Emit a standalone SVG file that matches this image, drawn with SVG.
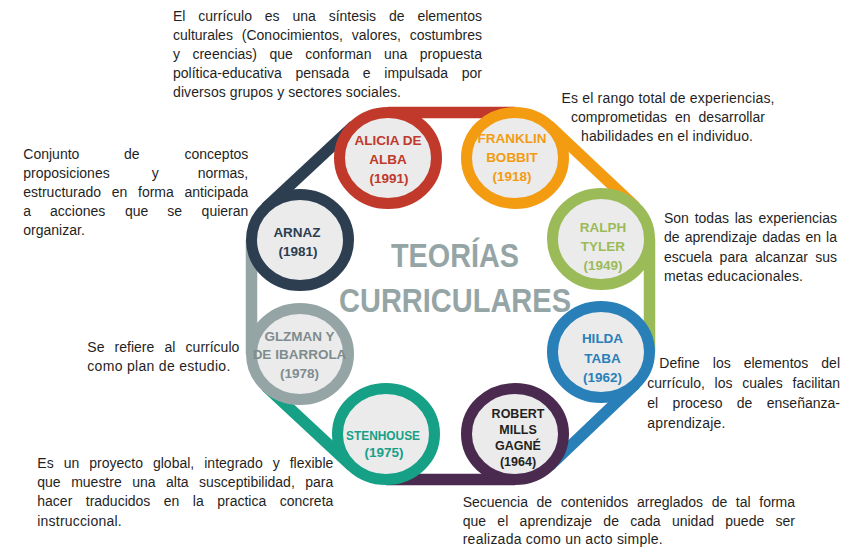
<svg xmlns="http://www.w3.org/2000/svg" width="851" height="558" viewBox="0 0 851 558">
<style>
.band{fill:none;stroke-width:11.5;stroke-linecap:butt}
.ring{fill:#ebebec;stroke-width:11}
.lbl{font-family:"Liberation Sans",Arial,sans-serif;font-weight:bold;font-size:13.5px;text-anchor:middle}
.lblr{font-family:"Liberation Sans",Arial,sans-serif;font-weight:bold;font-size:12.5px;text-anchor:middle;fill:#231f20}
.title{font-family:"Liberation Sans",Arial,sans-serif;font-weight:bold;font-size:33px;fill:#95a5a6;text-anchor:middle}
.body{font-family:"Liberation Sans",Arial,sans-serif;font-size:14px;fill:#1f1f1f}
.mid{text-anchor:middle}
</style>
<rect width="851" height="558" fill="#ffffff"/>
<g id="connectors">
<path class="band" stroke="#c0392b" d="M388,112.5 L515,112.5"/>
<path class="band" stroke="#f39c12" d="M549.4,125.9 L635.4,206.9"/>
<path class="band" stroke="#9bbb59" d="M649.5,239 L649.5,352"/>
<path class="band" stroke="#2980b9" d="M635.6,383.9 L549.6,465.9"/>
<path class="band" stroke="#4a2a4e" d="M515,479.5 L386,479.5"/>
<path class="band" stroke="#16a085" d="M351.9,466.3 L265.9,386.3"/>
<path class="band" stroke="#95a5a6" d="M251.5,354 L251.5,240"/>
<path class="band" stroke="#2c3e50" d="M265.8,207.7 L353.8,125.7"/>
</g>
<g id="alicia">
<ellipse class="ring" stroke="#c0392b" cx="388" cy="158" rx="48.5" ry="45.5"/>
<text class="lbl" fill="#c0392b"><tspan x="388" y="145">ALICIA DE</tspan><tspan x="388" y="164">ALBA</tspan><tspan x="389" y="183">(1991)</tspan></text>
</g>
<g id="franklin">
<ellipse class="ring" stroke="#f39c12" cx="515" cy="158" rx="48.5" ry="45.5"/>
<text class="lbl" fill="#f39c12"><tspan x="512" y="143">FRANKLIN</tspan><tspan x="512" y="162">BOBBIT</tspan><tspan x="512" y="181">(1918)</tspan></text>
</g>
<g id="ralph">
<ellipse class="ring" stroke="#9bbb59" cx="601" cy="239" rx="48.5" ry="45.5"/>
<text class="lbl" fill="#9bbb59"><tspan x="603" y="232">RALPH</tspan><tspan x="603" y="251">TYLER</tspan><tspan x="603" y="270">(1949)</tspan></text>
</g>
<g id="hilda">
<ellipse class="ring" stroke="#2980b9" cx="601" cy="352" rx="48.5" ry="45.5"/>
<text class="lbl" fill="#2980b9"><tspan x="602.5" y="343">HILDA</tspan><tspan x="602.5" y="363">TABA</tspan><tspan x="602.5" y="382">(1962)</tspan></text>
</g>
<g id="robert">
<ellipse class="ring" stroke="#4a2a4e" cx="515" cy="434" rx="48.5" ry="45.5"/>
<text class="lblr"><tspan x="518" y="418">ROBERT</tspan><tspan x="518" y="434">MILLS</tspan><tspan x="518" y="450">GAGNÉ</tspan><tspan x="518" y="466">(1964)</tspan></text>
</g>
<g id="stenhouse">
<ellipse class="ring" stroke="#16a085" cx="386" cy="434" rx="48.5" ry="45.5"/>
<text class="lbl" fill="#16a085"><tspan x="383" y="440" textLength="74" lengthAdjust="spacingAndGlyphs">STENHOUSE</tspan><tspan x="384" y="457">(1975)</tspan></text>
</g>
<g id="glzman">
<ellipse class="ring" stroke="#95a5a6" cx="300" cy="354" rx="48.5" ry="45.5"/>
<text class="lbl" fill="#7f8c8d"><tspan x="299.5" y="341">GLZMAN Y</tspan><tspan x="299.5" y="359">DE IBARROLA</tspan><tspan x="299.5" y="378">(1978)</tspan></text>
</g>
<g id="arnaz">
<ellipse class="ring" stroke="#2c3e50" cx="300" cy="240" rx="48.5" ry="45.5"/>
<text class="lbl" fill="#2c3e50"><tspan x="297" y="237">ARNAZ</tspan><tspan x="298" y="256">(1981)</tspan></text>
</g>
<g id="title">
<text class="title" x="455" y="267" textLength="128" lengthAdjust="spacingAndGlyphs">TEORÍAS</text>
<text class="title" x="455" y="312" textLength="232" lengthAdjust="spacingAndGlyphs">CURRICULARES</text>
</g>
<g id="desc-alicia" class="body">
<text x="173" y="20.5" word-spacing="9" textLength="309" lengthAdjust="spacing">El currículo es una síntesis de elementos</text>
<text x="173" y="39.5" word-spacing="5" textLength="309" lengthAdjust="spacing">culturales (Conocimientos, valores, costumbres</text>
<text x="173" y="58.5" word-spacing="8.6" textLength="309" lengthAdjust="spacing">y creencias) que conforman una propuesta</text>
<text x="173" y="77.5" word-spacing="9.8" textLength="309" lengthAdjust="spacing">política-educativa pensada e impulsada por</text>
<text x="173" y="96.5" textLength="228" lengthAdjust="spacing">diversos grupos y sectores sociales.</text>
</g>
<g id="desc-franklin" class="body">
<text class="mid" x="668" y="102.5" textLength="213" lengthAdjust="spacing">Es el rango total de experiencias,</text>
<text class="mid" x="668" y="121.5" word-spacing="4" textLength="194" lengthAdjust="spacing">comprometidas en desarrollar</text>
<text class="mid" x="667" y="140.5" textLength="172" lengthAdjust="spacing">habilidades en el individuo.</text>
</g>
<g id="desc-ralph" class="body">
<text x="664" y="223.3" word-spacing="1.9" textLength="173" lengthAdjust="spacing">Son todas las experiencias</text>
<text x="664" y="242.3" word-spacing="1.2" textLength="173" lengthAdjust="spacing">de aprendizaje dadas en la</text>
<text x="664" y="261.5" word-spacing="3.5" textLength="173" lengthAdjust="spacing">escuela para alcanzar sus</text>
<text x="664" y="281" textLength="139" lengthAdjust="spacing">metas educacionales.</text>
</g>
<g id="desc-arnaz" class="body">
<text y="159.3"><tspan x="23.3">Conjunto</tspan><tspan x="124">de</tspan><tspan x="184.5">conceptos</tspan></text>
<text y="178.3"><tspan x="23.3">proposiciones</tspan><tspan x="151.7">y</tspan><tspan x="197.7">normas,</tspan></text>
<text x="23.3" y="196.8" word-spacing="6.8" textLength="225" lengthAdjust="spacing">estructurado en forma anticipada</text>
<text y="216"><tspan x="23.3">a</tspan><tspan x="50">acciones</tspan><tspan x="125">que</tspan><tspan x="167.3">se</tspan><tspan x="201.6">quieran</tspan></text>
<text x="23.3" y="235">organizar.</text>
</g>
<g id="desc-glzman" class="body">
<text x="87.3" y="351.7" word-spacing="6.3" textLength="152" lengthAdjust="spacing">Se refiere al currículo</text>
<text x="87.3" y="370.7" textLength="143" lengthAdjust="spacing">como plan de estudio.</text>
</g>
<g id="desc-hilda" class="body">
<text x="659.3" y="368.3" word-spacing="9.1" textLength="180.7" lengthAdjust="spacing">Define los elementos del</text>
<text x="647.3" y="388.3" word-spacing="5.9" textLength="192.7" lengthAdjust="spacing">currículo, los cuales facilitan</text>
<text x="647.3" y="408.3" word-spacing="10.5" textLength="192.7" lengthAdjust="spacing">el proceso de enseñanza-</text>
<text x="647.3" y="428.3" textLength="78" lengthAdjust="spacing">aprendizaje.</text>
</g>
<g id="desc-stenhouse" class="body">
<text x="37.3" y="467.7" word-spacing="6.1" textLength="296" lengthAdjust="spacing">Es un proyecto global, integrado y flexible</text>
<text x="37.3" y="486.7" word-spacing="6.6" textLength="296" lengthAdjust="spacing">que muestre una alta susceptibilidad, para</text>
<text x="37.3" y="505.7" word-spacing="9.6" textLength="296" lengthAdjust="spacing">hacer traducidos en la practica concreta</text>
<text x="37.3" y="525.7" textLength="84.3" lengthAdjust="spacing">instruccional.</text>
</g>
<g id="desc-robert" class="body">
<text x="462.7" y="506.7" word-spacing="4.8" textLength="332.3" lengthAdjust="spacing">Secuencia de contenidos arreglados de tal forma</text>
<text x="462.7" y="525.7" word-spacing="7.4" textLength="332.3" lengthAdjust="spacing">que el aprendizaje de cada unidad puede ser</text>
<text x="462.7" y="544.3" textLength="200" lengthAdjust="spacing">realizada como un acto simple.</text>
</g>
</svg>
